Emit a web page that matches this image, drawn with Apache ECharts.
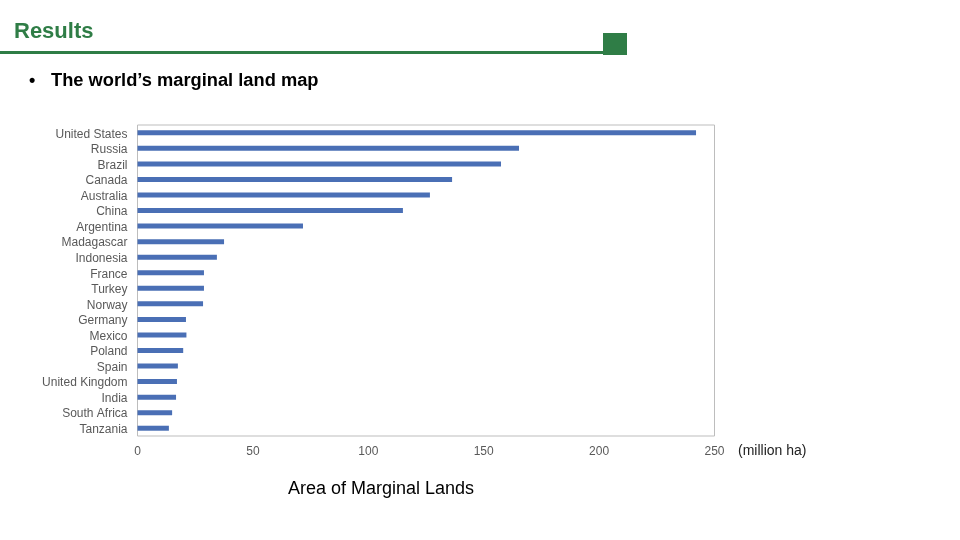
<!DOCTYPE html>
<html>
<head>
<meta charset="utf-8">
<style>
  html, body { margin: 0; padding: 0; background: #fff; }
  #chart { width: 960px; height: 540px; }
</style>
<script src="https://cdn.jsdelivr.net/npm/echarts@6/dist/echarts.min.js"></script>
</head>
<body>
<div id="chart"></div>
<script>
const categories = ['United States', 'Russia', 'Brazil', 'Canada', 'Australia', 'China', 'Argentina',
  'Madagascar', 'Indonesia', 'France', 'Turkey', 'Norway', 'Germany', 'Mexico', 'Poland', 'Spain',
  'United Kingdom', 'India', 'South Africa', 'Tanzania']
const areaValues = [242, 165.3, 157.5, 136.3, 126.7, 115, 71.7, 37.5, 34.4, 28.8, 28.8, 28.4, 21, 21.2,
  19.8, 17.5, 17.1, 16.7, 15, 13.6]
const pageTitle = 'Results'
const bulletMark = '•'
const bulletText = 'The world’s marginal land map'
const axisCaption = 'Area of Marginal Lands'
const unitText = '(million ha)'

const font = '"Liberation Sans", Arial, sans-serif'
const green = '#2f7d46'

const myChart = echarts.init(document.getElementById('chart'), null, { renderer: 'canvas' })

myChart.setOption({
  animation: false,
  backgroundColor: '#fff',
  textStyle: { fontFamily: font },
  grid: {
    left: 137.5, top: 125, width: 577, height: 311,
    show: true, borderColor: '#bdbdbd', borderWidth: 1, backgroundColor: '#fff'
  },
  xAxis: {
    type: 'value',
    min: 0,
    max: 250,
    interval: 50,
    splitLine: { show: false },
    axisLine: { show: false },
    axisTick: { show: false },
    axisLabel: { color: '#595959', fontSize: 12, margin: 10, fontFamily: font }
  },
  yAxis: {
    type: 'category',
    inverse: true,
    data: categories,
    axisLine: { show: false },
    axisTick: { show: false },
    // labels sit a touch below the bar centre in the original, rich padding is what moves them
    axisLabel: {
      interval: 0,
      margin: 10,
      formatter: name => `{a|${name}}`,
      rich: { a: { color: '#595959', fontSize: 12, fontFamily: font, padding: [3, 0, 0, 0] } }
    }
  },
  series: [{
    type: 'bar',
    data: areaValues,
    barWidth: 5,
    itemStyle: { color: '#4a6fb5' }
  }],
  graphic: [
    { type: 'rect', shape: { x: 0, y: 51, width: 604, height: 3 }, style: { fill: green } },
    { type: 'rect', shape: { x: 603, y: 33, width: 24, height: 22 }, style: { fill: green } },
    { type: 'text', x: 14, y: 21, style: { text: pageTitle, fill: green, font: 'bold 22px ' + font } },
    { type: 'text', x: 29, y: 72, style: { text: bulletMark, fill: '#000', font: 'bold 18px ' + font } },
    { type: 'text', x: 51, y: 72, style: { text: bulletText, fill: '#000', font: 'bold 18.3px ' + font } },
    { type: 'text', x: 381, y: 480, style: { text: axisCaption, fill: '#000', font: '18px ' + font, textAlign: 'center' } },
    { type: 'text', x: 738, y: 444, style: { text: unitText, fill: '#222', font: '14px ' + font } }
  ]
})
</script>
</body>
</html>
